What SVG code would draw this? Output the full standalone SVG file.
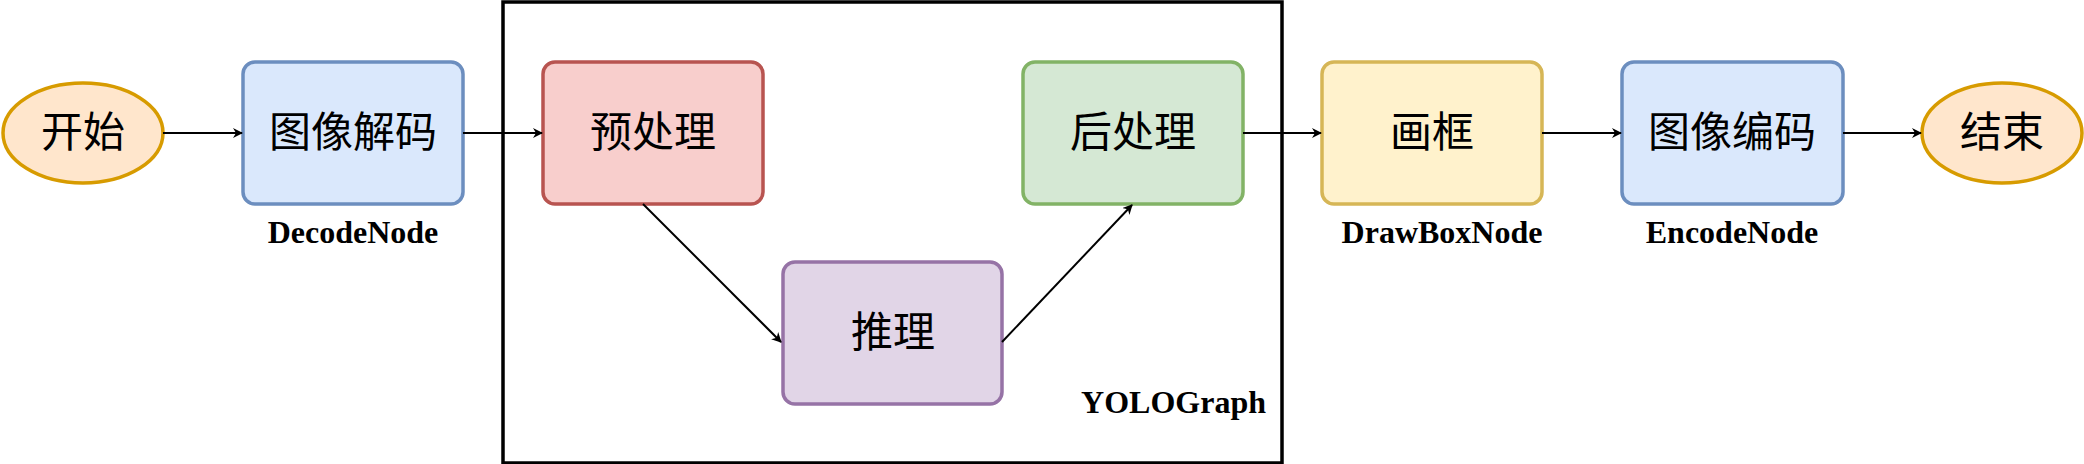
<svg xmlns="http://www.w3.org/2000/svg" width="2084" height="464" viewBox="0 0 2084 464">
<style>
.cn{font-family:"Liberation Serif","Noto Sans CJK SC",serif;font-size:42px;text-anchor:middle;dominant-baseline:central;fill:#000}
.lb{font-family:"Liberation Serif",serif;font-size:32px;font-weight:bold;text-anchor:middle;fill:#000}
.e{stroke:#000;stroke-width:2;fill:none;marker-end:url(#a)}
rect,ellipse{stroke-width:3.5}
</style>
<defs><marker id="a" markerWidth="10" markerHeight="10" refX="9" refY="5" orient="auto" markerUnits="userSpaceOnUse"><path d="M0,0 L10,5 L0,10 L3,5 Z" fill="#000"/></marker></defs>
<g id="yolograph"><rect x="503" y="2" width="779" height="461" fill="none" stroke="#000" stroke-width="3.5"/><text class="lb" x="1266" y="413" style="text-anchor:end">YOLOGraph</text></g>
<g id="start"><ellipse cx="83" cy="133" rx="80" ry="50" fill="#ffe6cc" stroke="#d79b00"/><text class="cn" x="83" y="133">开始</text></g>
<g id="decode"><rect x="243" y="62" width="220" height="142" rx="12" fill="#dae8fc" stroke="#6c8ebf"/><text class="cn" x="353" y="133">图像解码</text><text class="lb" x="353" y="243">DecodeNode</text></g>
<g id="pre"><rect x="543" y="62" width="220" height="142" rx="12" fill="#f8cecc" stroke="#b85450"/><text class="cn" x="653" y="133">预处理</text></g>
<g id="infer"><rect x="783" y="262" width="219" height="142" rx="12" fill="#e1d5e7" stroke="#9673a6"/><text class="cn" x="893" y="333">推理</text></g>
<g id="post"><rect x="1023" y="62" width="220" height="142" rx="12" fill="#d5e8d4" stroke="#82b366"/><text class="cn" x="1133" y="133">后处理</text></g>
<g id="drawbox"><rect x="1322" y="62" width="220" height="142" rx="12" fill="#fff2cc" stroke="#d6b656"/><text class="cn" x="1432" y="133">画框</text><text class="lb" x="1442" y="243">DrawBoxNode</text></g>
<g id="encode"><rect x="1622" y="62" width="221" height="142" rx="12" fill="#dae8fc" stroke="#6c8ebf"/><text class="cn" x="1732" y="133">图像编码</text><text class="lb" x="1732" y="243">EncodeNode</text></g>
<g id="end"><ellipse cx="2002" cy="133" rx="80" ry="50" fill="#ffe6cc" stroke="#d79b00"/><text class="cn" x="2002" y="133">结束</text></g>
<g id="connectors">
<line class="e" x1="163" y1="133" x2="242" y2="133"/>
<line class="e" x1="463" y1="133" x2="542" y2="133"/>
<line class="e" x1="643" y1="204" x2="781" y2="342"/>
<line class="e" x1="1002" y1="342" x2="1132" y2="205"/>
<line class="e" x1="1243" y1="133" x2="1321" y2="133"/>
<line class="e" x1="1542" y1="133" x2="1621" y2="133"/>
<line class="e" x1="1843" y1="133" x2="1921" y2="133"/>
</g>
</svg>
